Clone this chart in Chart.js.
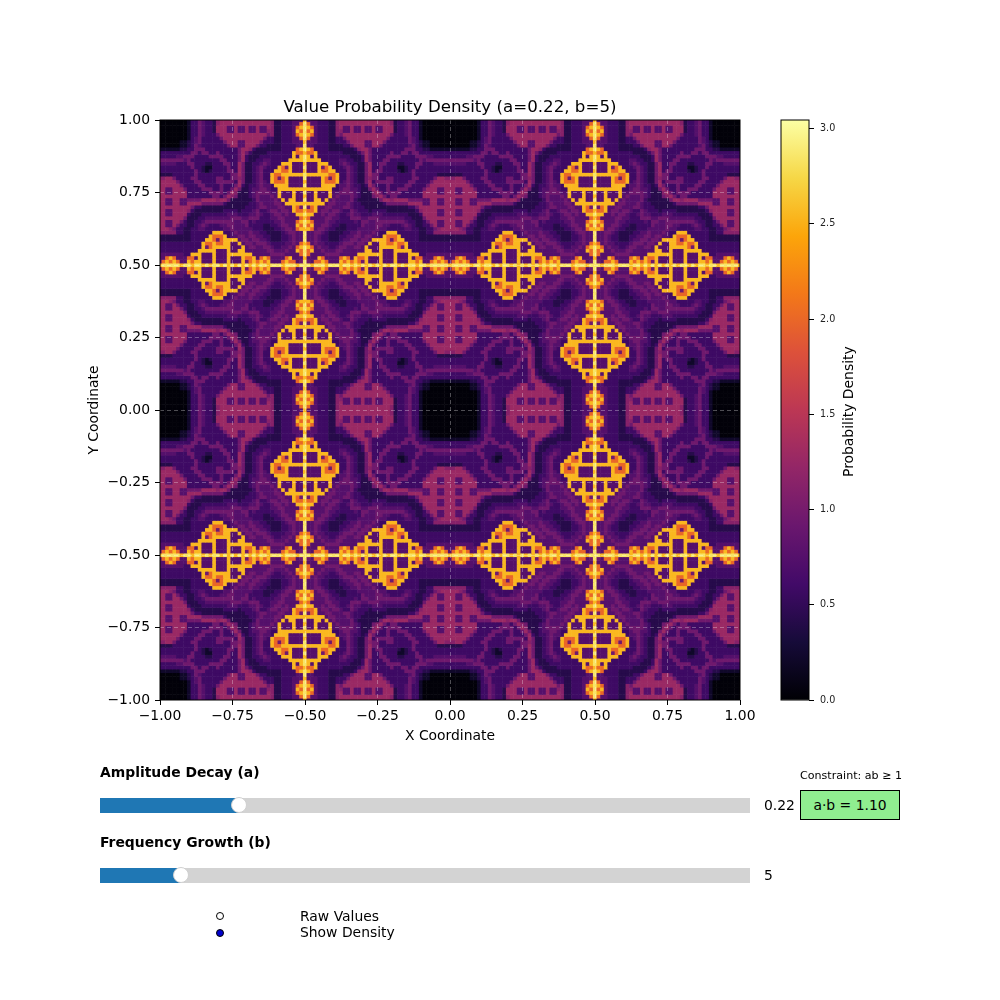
<!DOCTYPE html>
<html><head><meta charset="utf-8">
<script src="https://cdn.jsdelivr.net/npm/chart.js@4"></script>
<style>
html,body{margin:0;padding:0;background:#fff;width:1000px;height:1000px;overflow:hidden;font-family:"DejaVu Sans",sans-serif;color:#000}
canvas{position:absolute}
.t{position:absolute;white-space:nowrap;line-height:16px;font-size:13.9px}
.b{font-weight:bold}
.track{position:absolute;left:100px;width:650px;height:15px;background:#d3d3d3}
.fill{position:absolute;left:100px;height:15px;background:#1f77b4}
.knob{position:absolute;width:14px;height:14px;border-radius:50%;background:#fff;border:1px solid #d0d0d0}
.radio{position:absolute;left:216px;width:6px;height:6px;border-radius:50%;border:1.3px solid #000}
</style></head><body>
<canvas id="main" width="1000" height="1000" style="left:0;top:0"></canvas>
<canvas id="bar" width="220" height="1000" style="left:780px;top:0"></canvas>
<div class="t" style="left:0;top:0;transform-origin:0 0;transform:translate(840px,477px) rotate(-90deg);">Probability Density</div>
<div class="t b" style="left:100px;top:764px">Amplitude Decay (a)</div>
<div class="track" style="top:798px"></div><div class="fill" style="top:798px;width:139px"></div><div class="knob" style="left:231px;top:797px"></div>
<div class="t" style="left:764px;top:797px">0.22</div>
<div class="t b" style="left:100px;top:834px">Frequency Growth (b)</div>
<div class="track" style="top:868px"></div><div class="fill" style="top:868px;width:81px"></div><div class="knob" style="left:173px;top:867px"></div>
<div class="t" style="left:764px;top:867px">5</div>
<div class="radio" style="top:912px;background:#fff"></div><div class="radio" style="top:929px;background:#0000cd"></div>
<div class="t" style="left:300px;top:908px">Raw Values</div><div class="t" style="left:300px;top:924px">Show Density</div>
<div class="t" style="left:800px;top:768px;font-size:11.1px">Constraint: ab ≥ 1</div>
<div style="position:absolute;left:800px;top:790px;width:98px;height:28px;background:#90ee90;border:1px solid #000;text-align:center;line-height:28px;font-size:13.9px">a·b = 1.10</div>
<script>
// Density levels; symbols in the rows index this list.
const levelSymbols = "0123456789a";
const levelValues = [0.03,0.22,0.42,0.58,0.75,0.95,1.12,1.27,2.0,2.55,2.85];
// One repeating tile (X 0..0.5, Y 1..0.5, step 1/80), upper triangle; the reference mirrors it.
const tileRows = [
"00000000 13354332 67777777 7777777 6223334449",
"0000000 13354332 67777777 7777777 622333448a",
"000000 13354332 77744744 7447447 622333489a",
"00000 13354332 77744744 7447446 622333498a",
"0000 13354333 57777777 7777775 622333489a",
"000 13453333 35777777 7777753 322333448a",
"11 23453333 33577744 7777533 3223334449",
"1 23543333 33357744 7775332 222333344a",
"33555333 33333357 7632222 2223333 89a",
"5535533 53333357 5322223 3333339889",
"333355 55333357 3222333 333333949a",
"33333 35533357 3223344 333339999a",
"3223 33553375 2233454 3339994449",
"113 33353375 2234543 339859444a",
"23 33355375 2234533 3998894449",
"3 33335575 2234533 988999999a",
"55335565 2234533 985894444a",
"5555375 2234543 9888944449",
"333573 2334544 399994444a",
"35752 2344554 3399999999",
"7622 2345555 449444944a",
"522 2345444 5494449449",
"22 2235444 454949944a",
"2 2334544 4554999999",
"3334554 445544985a",
"345334 5545549889",
"45433 4554544 99a",
"5333 4455444489",
"333 344544489a",
"22 334554498a",
"2 2334554899",
"222345544a",
"22334544a",
"2334544a",
"3445489",
"45489a",
"4498a",
"448a",
"449",
"5a",
"a"
].map(s=>s.replace(/ /g,""));
const xTicks = [-1,-0.75,-0.5,-0.25,0,0.25,0.5,0.75,1];
const yTicks = [-1,-0.75,-0.5,-0.25,0,0.25,0.5,0.75,1];
const barTicks = [0,0.5,1,1.5,2,2.5,3];
const colorStops = ["#000004","#160b39","#420a68","#6a176e","#932667","#bc3754","#dd513a","#f37819","#fca50a","#f6d746","#fcffa4"];
const barMax = 3.045;

function hex(c){return [1,3,5].map(i=>parseInt(c.substr(i,2),16));}
function cmap(v){
  const t=Math.min(1,Math.max(0,v/barMax))*(colorStops.length-1), i=Math.min(colorStops.length-2,Math.floor(t)), f=t-i;
  const a=hex(colorStops[i]),b=hex(colorStops[i+1]);
  return `rgb(${a.map((x,k)=>Math.round(x+(b[k]-x)*f)).join(",")})`;
}
const levelColors = levelValues.map(cmap);
function idx(n){const a=Math.abs(n);return a<=40?a:80-a;}
function symbol(r,c){return r<=c?tileRows[r][c-r]:tileRows[c][r-c];}
const pts=[],cols=[];
for(let j=-80;j<=80;j++)for(let i=-80;i<=80;i++){
  pts.push({x:i/80,y:j/80});
  cols.push(levelColors[levelSymbols.indexOf(symbol(idx(j),idx(i)))]||levelColors[3]);
}
const spines={id:'spines',afterDraw(ch){const a=ch.chartArea,c=ch.ctx;c.save();c.strokeStyle='#000';c.lineWidth=1;c.strokeRect(a.left,a.top,a.right-a.left,a.bottom-a.top);c.restore();}};
const fmt=v=>Number(v).toFixed(2).replace('-','\u2212');
const gridColor=ctx=>Math.abs(ctx.tick.value)>=0.999?'rgba(0,0,0,0)':'rgba(255,255,255,0.3)';
const tickFont={family:'"DejaVu Sans"',size:13.9};
new Chart(document.getElementById('main'),{
  type:'scatter',
  data:{datasets:[{data:pts,pointStyle:'rect',pointRadius:2.95,pointBorderWidth:0,pointBackgroundColor:cols,pointHoverRadius:2.95,clip:0,showLine:false}]},
  plugins:[spines],
  options:{responsive:false,animation:false,events:[],parsing:false,normalized:true,devicePixelRatio:1,
    layout:{padding:{left:86,right:260,top:0,bottom:255}},
    plugins:{legend:{display:false},tooltip:{enabled:false},
      title:{display:true,fullSize:false,text:'Value Probability Density (a=0.22, b=5)',color:'#000',font:{family:'"DejaVu Sans"',size:16.67,weight:'normal',lineHeight:1.2},padding:{top:98,bottom:2}}},
    scales:{
      x:{type:'linear',min:-1,max:1,afterBuildTicks:s=>{s.ticks=xTicks.map(v=>({value:v}));},afterFit:s=>{s.height=45;},
        title:{display:true,text:'X Coordinate',color:'#000',font:tickFont,padding:0},
        ticks:{color:'#000',font:tickFont,callback:fmt,autoSkip:false,maxRotation:0,padding:3},
        grid:{z:1,color:gridColor,tickColor:'#000',tickLength:5,lineWidth:1},border:{display:false,dash:[4,3]}},
      y:{type:'linear',min:-1,max:1,afterBuildTicks:s=>{s.ticks=yTicks.map(v=>({value:v}));},afterFit:s=>{s.width=74;},
        title:{display:true,text:'Y Coordinate',color:'#000',font:tickFont,padding:0},
        ticks:{color:'#000',font:tickFont,callback:fmt,autoSkip:false,padding:5},
        grid:{z:1,color:gridColor,tickColor:'#000',tickLength:5,lineWidth:1},border:{display:false,dash:[4,3]}}
    }}
});
const barFill=ctx=>{
  const ch=ctx.chart; if(!ch.chartArea) return colorStops[5];
  const y=ch.scales.y, g=ch.ctx.createLinearGradient(0,y.getPixelForValue(0),0,y.getPixelForValue(barMax));
  colorStops.forEach((c,i)=>g.addColorStop(i/(colorStops.length-1),c));
  return g;
};
new Chart(document.getElementById('bar'),{
  type:'bar',
  data:{labels:['Probability Density'],datasets:[{data:[[0,barMax]],backgroundColor:barFill,borderWidth:0,barPercentage:1,categoryPercentage:1}]},
  plugins:[spines],
  options:{responsive:false,animation:false,events:[],devicePixelRatio:1,
    layout:{padding:{left:1,right:0,top:120,bottom:300}},
    plugins:{legend:{display:false},tooltip:{enabled:false}},
    scales:{
      x:{display:false},
      y:{position:'right',min:0,max:barMax,afterBuildTicks:s=>{s.ticks=barTicks.map(v=>({value:v}));},afterFit:s=>{s.width=191;},
        ticks:{color:'#222',font:{family:'"DejaVu Sans"',size:9.6},callback:v=>Number(v).toFixed(1),padding:6},
        grid:{drawOnChartArea:false,tickColor:'#000',tickLength:5},border:{display:false}}
    }}
});
</script>
</body></html>
